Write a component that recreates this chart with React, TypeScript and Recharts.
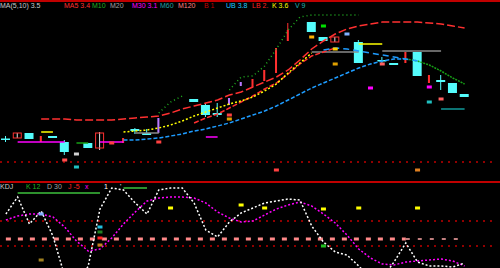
import { ComposedChart, Bar, Line, XAxis, YAxis, ReferenceLine, ReferenceDot } from "recharts";

const CYAN = "#54fcfc";
const RED = "#ff3030";
const DARK_RED = "#c00000";
const VIOLET = "#b878ff";
const YELLOW = "#ffff00";
const BLUE = "#1e9cff";
const GREEN = "#16a016";
const MAGENTA = "#ff00ff";
const GRAY = "#8a8a8a";

// bar slots on the x axis, leftmost bar is -2
const slots = [-2, -1, 0, 1, 2, 3, 4, 5, 6, 7, 8, 9, 10, 11, 12, 13, 14, 15, 16, 17, 18, 19, 20,
  21, 22, 23, 24, 25, 26, 27, 28, 29, 30, 31, 32, 33, 34, 35, 36, 37, 38, 39];

// [slot, open, close, high, low, kind]
const candles: [number, number, number, number, number, string][] = [
  [-2, 43.5, 43, 46, 40, "down"],
  [-1, 44, 49, 49, 44, "up"],
  [0, 49, 43, 49, 43, "down"],
  [1, 40, 46, 46, 40, "thin"],
  [2, 46, 44, 46, 44, "down"],
  [3, 40, 30, 42, 27, "down"],
  [5, 39, 34, 39, 34, "down"],
  [6, 34, 49, 50, 32, "up"],
  [8, 39, 44, 44, 39, "thin"],
  [9, 53, 51, 54, 48, "down"],
  [10, 49, 47, 53, 47, "down"],
  [11, 49, 64, 64, 49, "violet"],
  [14, 83, 80, 83, 80, "down"],
  [15, 77, 67, 79, 65, "down"],
  [16, 69, 67, 79, 65, "down"],
  [17, 77, 84, 84, 77, "violet"],
  [18, 96, 100, 100, 96, "violet"],
  [19, 95, 103, 103, 95, "thin"],
  [20, 101, 112, 112, 101, "thin"],
  [21, 109, 134, 134, 109, "thin"],
  [22, 141, 152, 159, 141, "thin"],
  [24, 160, 150, 160, 150, "down"],
  [25, 145, 141, 145, 141, "down"],
  [26, 140, 145, 145, 140, "up"],
  [28, 140, 119, 142, 119, "down"],
  [30, 122, 121, 125, 119, "down"],
  [31, 119, 117, 119, 117, "down"],
  [32, 119, 130, 130, 119, "thin"],
  [33, 130, 106, 130, 106, "down"],
  [34, 99, 107, 107, 99, "thin"],
  [35, 102, 100, 107, 92, "down"],
  [36, 99, 89, 99, 89, "down"],
  [37, 88, 85, 88, 85, "down"],
];

// upper panel lines, each starts at the given slot
const maLongFrom = 1;
const maLong = [63, 63, 63, 62, 62, 62, 62, 63, 64, 65, 66, 69, 73, 76, 79, 82, 87, 90, 95, 100,
  105, 112, 122, 133, 141, 148, 153, 156, 158, 160, 160, 160, 160, 159, 158, 156, 154];
const maShortFrom = 14;
const maShort = [59, 64, 68, 74, 80, 86, 93, 99, 108, 118, 126, 130, 134];
const maYellowFrom = 8;
const maYellow = [50, 51, 52, 54, 57, 61, 66, 70, 74, 78, 81, 85, 91, 98, 109, 119, 129];
const maBlueFrom = 8;
const maBlue = [42, 42, 43, 44, 46, 48, 51, 53, 56, 59, 63, 67, 71, 76, 82, 88, 94, 99, 104, 109,
  114, 118, 121, 123, 123];
const maGreenFrom = 32;
const maGreen = [123, 121, 117, 111, 104, 98];
const bandUpperFrom = 25;
const bandUpper = [132, 134, 133, 131, 129, 127, 125, 123, 121];
const sarFrom = 11;
const sar = [69, 80, 86, null, null, null, 92, 105, 106, 116, 133, 152, 165, 167, 167, 167, 167, 167];

// lower panel oscillator
const oscFrom = -2;
const kLine = [54, 71, 44, 57, 32, -8, -20, 2, 59, 80, 78, 65, 54, 78, 80, 80, 65, 38, 31, 46,
  55, 60, 65, 67, 69, 68, 42, 26, 16, 13, 2, -10, -10, 6, 25, 6, 2, 2, 1, 5];
const dLine = [48, 52, 54, 54, 51, 41, 27, 17, 19, 30, 44, 56, 67, 70, 71, 71, 70, 65, 56, 50,
  46, 47, 53, 59, 63, 66, 62, 54, 45, 33, 19, 10, 4, 3, 6, 7, 8, 9, 7, 2];

// [fromSlot, toSlot, level, color]
const topLevels: [number, number, number, string][] = [
  [24, 28, 130, GRAY],
  [30, 35, 131, GRAY],
  [28, 30, 138, YELLOW],
  [9, 11, 49, GRAY],
  [-1, 3, 40, MAGENTA],
  [6, 8, 40, MAGENTA],
  [15, 16, 45, MAGENTA],
  [1, 2, 50, YELLOW],
  [4, 5, 39, GREEN],
  [35, 37, 73, "#119a9a"],
];
const botLevels: [number, number, number, string][] = [
  [-1, 6, 75, "#3cc03c"],
  [8, 10, 80, "#3cc03c"],
];

// [slot, level, color]
const topMarks: [number, number, string][] = [
  [3, 22, "#ff5050"], [4, 15, "#20c0c0"], [4, 28, "#d0d0d0"], [7, 39, "#ff4040"],
  [11, 40, "#ff4040"], [17, 67, "#ff4040"], [17, 63, "#e0a000"], [24, 145, "#ffb000"],
  [25, 156, "#00e000"], [26, 133, "#ffd000"], [26, 118, "#e0a000"], [27, 148, "#80b0ff"],
  [30, 118, "#ff6060"], [35, 83, "#ff6060"], [34, 80, "#20c0c0"], [21, 12, "#ff4040"],
  [33, 12, "#e08020"], [29, 94, MAGENTA], [34, 95, MAGENTA],
];
const botMarks: [number, number, string][] = [
  [12, 60, YELLOW], [18, 63, YELLOW], [20, 60, YELLOW], [25, 59, YELLOW], [28, 60, YELLOW],
  [33, 60, YELLOW], [1, 54, "#80b0ff"], [6, 41, "#20c0e0"], [6, 36, "#208020"],
  [6, 30, "#ff2020"], [6, 23, "#c08020"], [1, 8, "#a08020"], [25, 22, "#20c020"],
];

const topLegend: [number, string, string][] = [
  [0, "#c8c8c8", "MA(5,10) 3.5"], [64, "#ff3030", "MA5 3.4"], [92, "#20b020", "M10"],
  [110, "#a0a0a0", "M20"], [132, "#ff00ff", "M30 3.1"], [160, "#20a0a0", "M60"],
  [178, "#ff8080", "M120"], [204, "#c00000", "B 1"], [226, "#20c8ff", "UB 3.8"],
  [252, "#ff2020", "LB 2."], [272, "#ffff00", "K 3.6"], [295, "#20b0b0", "V 9"],
];
const botLegend: [number, string, string][] = [
  [0, "#c8c8c8", "KDJ"], [26, "#20b020", "K 12"], [47, "#a0a0a0", "D 30"],
  [68, "#ff2020", "J -5"], [85, "#ff00ff", "x"], [104, "#ffffff", "1"], [120, "#ffffff", "'"],
];

function put(rows: any[], key: string, from: number, values: (number | null)[]) {
  values.forEach((v, i) => {
    const row = rows.find((r) => r.k === from + i);
    if (row && v != null) row[key] = v;
  });
}

const rows: any[] = slots.map((k) => ({ k }));
candles.forEach(([k, open, close, high, low, kind]) => {
  const row = rows.find((r) => r.k === k);
  Object.assign(row, { open, close, high, low, kind, range: [low, high] });
});
put(rows, "maLong", maLongFrom, maLong);
put(rows, "maShort", maShortFrom, maShort);
put(rows, "maYellow", maYellowFrom, maYellow);
put(rows, "maBlue", maBlueFrom, maBlue);
put(rows, "maGreen", maGreenFrom, maGreen);
put(rows, "bandUpper", bandUpperFrom, bandUpper);
put(rows, "sar", sarFrom, sar);
put(rows, "kLine", oscFrom, kLine);
put(rows, "dLine", oscFrom, dLine);

function Candle(props: any) {
  const { x, y, width, height, payload } = props;
  if (!payload || payload.open == null || !height) return <g />;
  const { open, close, high, low, kind } = payload;
  const unit = height / (high - low);
  const py = (v: number) => y + (high - v) * unit;
  const cx = x + width / 2;
  const top = py(Math.max(open, close));
  const h = Math.max(1.5, py(Math.min(open, close)) - top);
  if (kind === "down") {
    return (
      <g>
        <line x1={cx} x2={cx} y1={y} y2={y + height} stroke={CYAN} strokeWidth={1} />
        <rect x={x} y={top} width={width} height={h} fill={CYAN} />
      </g>
    );
  }
  if (kind === "up") {
    return (
      <g>
        <line x1={cx} x2={cx} y1={y} y2={y + height} stroke="#e0e0e0" strokeWidth={1} />
        <rect x={x + 0.5} y={top} width={width - 1} height={h} fill="none" stroke={RED} strokeWidth={1} />
      </g>
    );
  }
  const color = kind === "violet" ? VIOLET : RED;
  return (
    <g>
      <line x1={cx} x2={cx} y1={y} y2={y + height} stroke={color} strokeWidth={1} />
      <rect x={cx - 1} y={top} width={2} height={h} fill={color} />
    </g>
  );
}

const markShape = (color: string) => (p: any) => (
  <rect x={p.cx - 2.5} y={p.cy - 1.5} width={5} height={3} fill={color} />
);

export default function App() {
  const legendStyle = { position: "absolute" as const, fontSize: 7, lineHeight: "8px", fontFamily: "Liberation Sans", whiteSpace: "nowrap" as const };
  const lineProps = { dot: false, activeDot: false, isAnimationActive: false, strokeWidth: 1.5 };
  return (
    <div style={{ position: "fixed", left: 0, top: 0, width: 500, height: 268, background: "#000", overflow: "hidden" }}>
      <div style={{ position: "absolute", left: 0, top: 0, width: 500, height: 2, background: DARK_RED }} />
      <div style={{ position: "absolute", left: 0, top: 181, width: 500, height: 2, background: DARK_RED }} />
      {topLegend.map(([x, c, t]) => (
        <div key={"t" + x} style={{ ...legendStyle, left: x, top: 2, color: c }}>{t}</div>
      ))}
      {botLegend.map(([x, c, t]) => (
        <div key={"b" + x} style={{ ...legendStyle, left: x, top: 183, color: c }}>{t}</div>
      ))}
      <div style={{ position: "absolute", left: 0, top: 0 }}>
        <ComposedChart width={500} height={268} data={rows} margin={{ top: 0, right: 6, bottom: 0, left: 0 }}>
          <XAxis dataKey="k" type="category" hide />
          <YAxis yAxisId="top" domain={[-86, 182]} hide allowDataOverflow />
          <YAxis yAxisId="bot" domain={[0, 268]} hide allowDataOverflow />

          <ReferenceLine yAxisId="top" y={20} stroke={DARK_RED} strokeDasharray="2 5" strokeWidth={1.5} />
          <ReferenceLine yAxisId="bot" y={47} stroke={DARK_RED} strokeDasharray="2 5" strokeWidth={1.5} />
          <ReferenceLine yAxisId="bot" y={22} stroke={DARK_RED} strokeDasharray="2 5" strokeWidth={1.5} />
          <ReferenceLine yAxisId="bot" segment={[{ x: -2, y: 29 }, { x: 32, y: 29 }]} stroke="#ff8888" strokeDasharray="5 7" strokeWidth={3} />
          <ReferenceLine yAxisId="bot" segment={[{ x: 32, y: 29 }, { x: 37, y: 29 }]} stroke="#ffa8a8" strokeDasharray="4 8" strokeWidth={1.5} />

          {topLevels.map(([a, b, v, c], i) => (
            <ReferenceLine key={"tl" + i} yAxisId="top" segment={[{ x: a, y: v }, { x: b, y: v }]} stroke={c} strokeWidth={1.5} />
          ))}
          {botLevels.map(([a, b, v, c], i) => (
            <ReferenceLine key={"bl" + i} yAxisId="bot" segment={[{ x: a, y: v }, { x: b, y: v }]} stroke={c} strokeWidth={1.5} />
          ))}

          <Line yAxisId="top" dataKey="maLong" stroke={RED} strokeDasharray="8 3" {...lineProps} />
          <Line yAxisId="top" dataKey="maShort" stroke={RED} strokeDasharray="5 2" {...lineProps} />
          <Line yAxisId="top" dataKey="maYellow" stroke={YELLOW} strokeDasharray="2 2" {...lineProps} />
          <Line yAxisId="top" dataKey="maBlue" stroke={BLUE} strokeDasharray="4 2" {...lineProps} />
          <Line yAxisId="top" dataKey="maGreen" stroke={GREEN} strokeDasharray="2 1" {...lineProps} />
          <Line yAxisId="top" dataKey="bandUpper" stroke={BLUE} strokeDasharray="6 4" {...lineProps} />
          <Line yAxisId="top" dataKey="sar" stroke="#22b022" strokeDasharray="1 3" {...lineProps} />

          <Bar yAxisId="top" dataKey="range" barSize={9} isAnimationActive={false} activeBar={false} shape={(p: any) => <Candle {...p} />} />

          <Line yAxisId="bot" dataKey="dLine" stroke={MAGENTA} strokeDasharray="2 2" {...lineProps} />
          <Line yAxisId="bot" dataKey="kLine" stroke="#ffffff" strokeDasharray="2 2" {...lineProps} />

          {topMarks.map(([k, v, c], i) => (
            <ReferenceDot key={"tm" + i} yAxisId="top" x={k} y={v} r={2} shape={markShape(c)} />
          ))}
          {botMarks.map(([k, v, c], i) => (
            <ReferenceDot key={"bm" + i} yAxisId="bot" x={k} y={v} r={2} shape={markShape(c)} />
          ))}
        </ComposedChart>
      </div>
    </div>
  );
}
